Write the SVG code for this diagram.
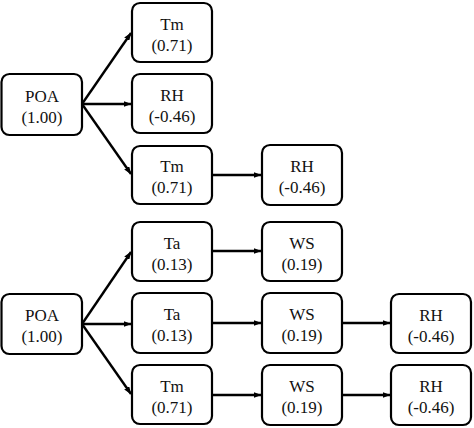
<svg xmlns="http://www.w3.org/2000/svg" width="474" height="428" viewBox="0 0 474 428">
<style>
.box{fill:#fff;stroke:#000;stroke-width:2.2}
.t{font-family:"Liberation Serif","Times New Roman",serif;font-size:17px;text-anchor:middle;fill:#111}
.c{stroke:#000;stroke-width:2.4;fill:none;marker-end:url(#ah)}
</style>
<defs>
<marker id="ah" markerWidth="8" markerHeight="6" refX="7.5" refY="3" orient="auto" markerUnits="userSpaceOnUse">
<path d="M0,0 L8,3 L0,6 Z" fill="#000"/>
</marker>
</defs>
<rect width="474" height="428" fill="#fff"/>
<g id="connectors">
<line class="c" x1="82" y1="104" x2="131" y2="33"/>
<line class="c" x1="82" y1="104" x2="131" y2="104"/>
<line class="c" x1="82" y1="104" x2="131" y2="174"/>
<line class="c" x1="212" y1="175" x2="261" y2="175"/>
<line class="c" x1="82" y1="324" x2="131" y2="252"/>
<line class="c" x1="82" y1="324" x2="131" y2="324"/>
<line class="c" x1="82" y1="324" x2="131" y2="394"/>
<line class="c" x1="212" y1="251" x2="261" y2="251"/>
<line class="c" x1="212" y1="323" x2="261" y2="323"/>
<line class="c" x1="342" y1="323" x2="390" y2="323"/>
<line class="c" x1="212" y1="395" x2="261" y2="395"/>
<line class="c" x1="342" y1="395" x2="390" y2="395"/>
</g>
<g id="poa1"><rect class="box" x="1.5" y="74" width="80.5" height="61" rx="8"/><text class="t" x="42" y="102">POA</text><text class="t" x="42" y="123">(1.00)</text></g>
<g id="tm1"><rect class="box" x="132" y="3" width="80" height="59" rx="8"/><text class="t" x="172" y="30">Tm</text><text class="t" x="172" y="51">(0.71)</text></g>
<g id="rh1"><rect class="box" x="132" y="74" width="80" height="59" rx="8"/><text class="t" x="172" y="101">RH</text><text class="t" x="172" y="122">(-0.46)</text></g>
<g id="tm2"><rect class="box" x="132" y="146" width="80" height="58" rx="8"/><text class="t" x="172" y="172">Tm</text><text class="t" x="172" y="193">(0.71)</text></g>
<g id="rh2"><rect class="box" x="262" y="145" width="80" height="60" rx="8"/><text class="t" x="302" y="172">RH</text><text class="t" x="302" y="193">(-0.46)</text></g>
<g id="poa2"><rect class="box" x="1.5" y="294" width="80.5" height="60" rx="8"/><text class="t" x="42" y="321">POA</text><text class="t" x="42" y="342">(1.00)</text></g>
<g id="ta1"><rect class="box" x="132" y="222" width="80" height="59" rx="8"/><text class="t" x="172" y="249">Ta</text><text class="t" x="172" y="270">(0.13)</text></g>
<g id="ws1"><rect class="box" x="262" y="222" width="80" height="59" rx="8"/><text class="t" x="302" y="249">WS</text><text class="t" x="302" y="270">(0.19)</text></g>
<g id="ta2"><rect class="box" x="132" y="293" width="80" height="60" rx="8"/><text class="t" x="172" y="320">Ta</text><text class="t" x="172" y="341">(0.13)</text></g>
<g id="ws2"><rect class="box" x="262" y="293" width="80" height="60" rx="8"/><text class="t" x="302" y="320">WS</text><text class="t" x="302" y="341">(0.19)</text></g>
<g id="rh3"><rect class="box" x="391" y="294" width="80" height="59" rx="8"/><text class="t" x="431" y="321">RH</text><text class="t" x="431" y="342">(-0.46)</text></g>
<g id="tm3"><rect class="box" x="132" y="365" width="80" height="59" rx="8"/><text class="t" x="172" y="392">Tm</text><text class="t" x="172" y="413">(0.71)</text></g>
<g id="ws3"><rect class="box" x="262" y="365" width="80" height="60" rx="8"/><text class="t" x="302" y="392">WS</text><text class="t" x="302" y="413">(0.19)</text></g>
<g id="rh4"><rect class="box" x="391" y="365" width="80" height="60" rx="8"/><text class="t" x="431" y="392">RH</text><text class="t" x="431" y="413">(-0.46)</text></g>
</svg>
